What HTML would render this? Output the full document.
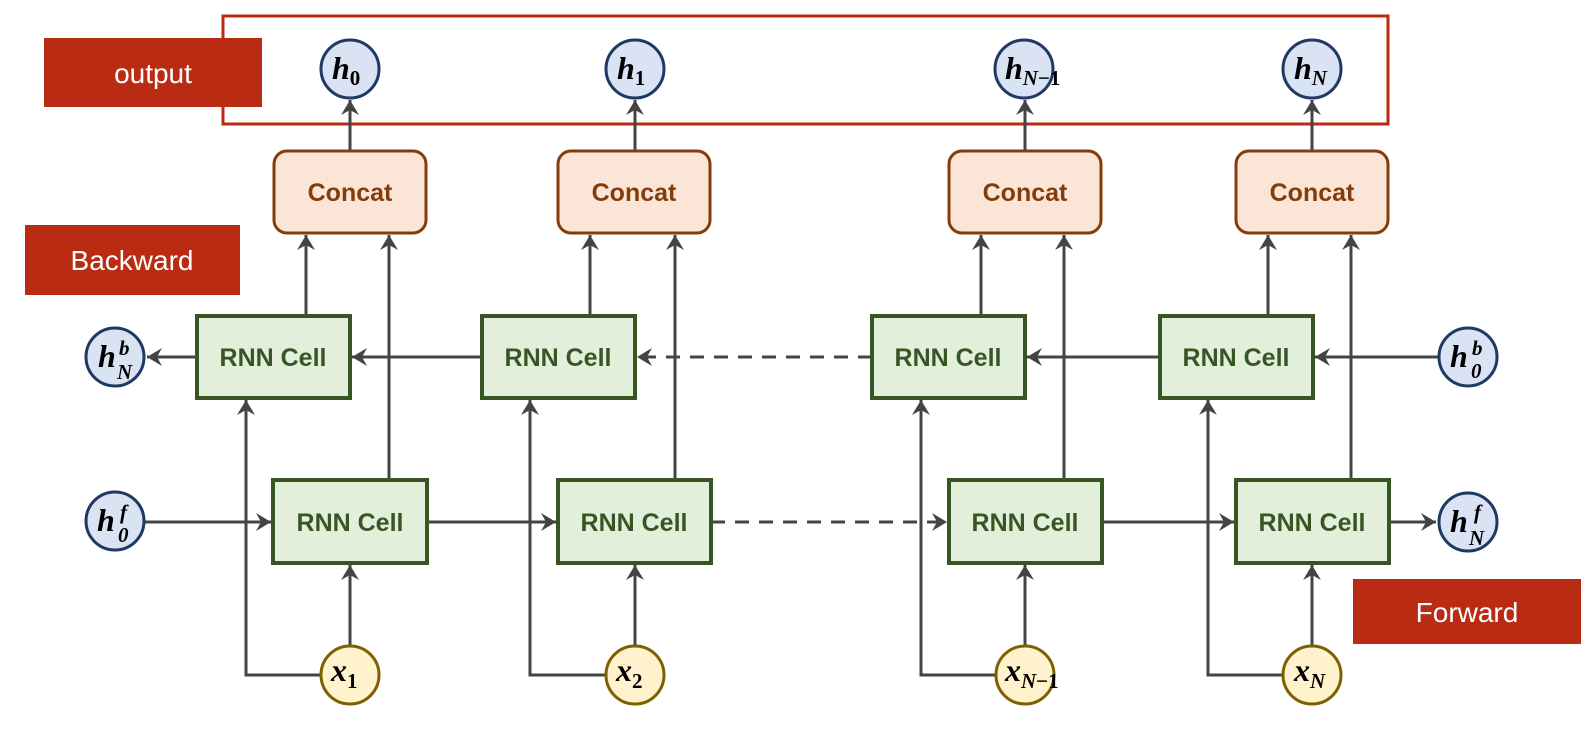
<!DOCTYPE html>
<html><head><meta charset="utf-8"><style>
html,body{margin:0;padding:0;background:#fff;}
svg{display:block}
.cell{fill:#e2efda;stroke:#375623;stroke-width:4}
.ct{font-family:"Liberation Sans",sans-serif;font-weight:bold;font-size:25px;fill:#375623;text-anchor:middle}
.cc{fill:#fbe5d6;stroke:#843c0c;stroke-width:3}
.cct{font-family:"Liberation Sans",sans-serif;font-weight:bold;font-size:25px;fill:#843c0c;text-anchor:middle}
.hc{fill:#dae3f3;stroke:#1f3864;stroke-width:3}
.xc{fill:#fff2cc;stroke:#7f6000;stroke-width:3}
.m{font-family:"Liberation Serif",serif;font-weight:bold;font-style:italic;fill:#000}
.ln{stroke:#444;stroke-width:3;fill:none}
.lab{fill:#b92b12}
.lt{font-family:"Liberation Sans",sans-serif;font-size:28px;fill:#fff;text-anchor:middle}
</style></head><body>
<svg width="1592" height="736" viewBox="0 0 1592 736" xmlns="http://www.w3.org/2000/svg">
<defs>
<marker id="a" markerUnits="userSpaceOnUse" markerWidth="20" markerHeight="20" refX="0" refY="0" viewBox="-18 -10 20 20" orient="auto">
<path d="M0,0 L-15,-9 L-10,0 L-15,9 Z" fill="#444"/>
</marker>
</defs>
<rect x="223" y="16" width="1165" height="108" fill="none" stroke="#b92b12" stroke-width="3"/>
<rect class="lab" x="44" y="38" width="218" height="69"/>
<text class="lt" x="153" y="83">output</text>
<rect class="lab" x="25" y="225" width="215" height="70"/>
<text class="lt" x="132" y="270">Backward</text>
<rect class="lab" x="1353" y="579" width="228" height="65"/>
<text class="lt" x="1467" y="622">Forward</text>

<line class="ln" x1="197" y1="357" x2="147" y2="357" marker-end="url(#a)"/>
<line class="ln" x1="482" y1="357" x2="352" y2="357" marker-end="url(#a)"/>
<line class="ln" x1="872" y1="357" x2="637" y2="357" stroke-dasharray="14,10" marker-end="url(#a)"/>
<line class="ln" x1="1160" y1="357" x2="1027" y2="357" marker-end="url(#a)"/>
<line class="ln" x1="1438" y1="357" x2="1315" y2="357" marker-end="url(#a)"/>

<line class="ln" x1="145" y1="522" x2="271" y2="522" marker-end="url(#a)"/>
<line class="ln" x1="427" y1="522" x2="556" y2="522" marker-end="url(#a)"/>
<line class="ln" x1="711" y1="522" x2="947" y2="522" stroke-dasharray="14,10" marker-end="url(#a)"/>
<line class="ln" x1="1102" y1="522" x2="1234" y2="522" marker-end="url(#a)"/>
<line class="ln" x1="1389" y1="522" x2="1436" y2="522" marker-end="url(#a)"/>

<polyline class="ln" points="320,675 246,675 246,400" marker-end="url(#a)"/>
<line class="ln" x1="350" y1="645" x2="350" y2="565" marker-end="url(#a)"/>
<line class="ln" x1="306" y1="315" x2="306" y2="235" marker-end="url(#a)"/>
<line class="ln" x1="389" y1="480" x2="389" y2="235" marker-end="url(#a)"/>
<line class="ln" x1="350" y1="151" x2="350" y2="100" marker-end="url(#a)"/>

<polyline class="ln" points="605,675 530,675 530,400" marker-end="url(#a)"/>
<line class="ln" x1="635" y1="645" x2="635" y2="565" marker-end="url(#a)"/>
<line class="ln" x1="590" y1="315" x2="590" y2="235" marker-end="url(#a)"/>
<line class="ln" x1="675" y1="480" x2="675" y2="235" marker-end="url(#a)"/>
<line class="ln" x1="635" y1="151" x2="635" y2="100" marker-end="url(#a)"/>

<polyline class="ln" points="995,675 921,675 921,400" marker-end="url(#a)"/>
<line class="ln" x1="1025" y1="645" x2="1025" y2="565" marker-end="url(#a)"/>
<line class="ln" x1="981" y1="315" x2="981" y2="235" marker-end="url(#a)"/>
<line class="ln" x1="1064" y1="480" x2="1064" y2="235" marker-end="url(#a)"/>
<line class="ln" x1="1025" y1="151" x2="1025" y2="100" marker-end="url(#a)"/>

<polyline class="ln" points="1282,675 1208,675 1208,400" marker-end="url(#a)"/>
<line class="ln" x1="1312" y1="645" x2="1312" y2="565" marker-end="url(#a)"/>
<line class="ln" x1="1268" y1="315" x2="1268" y2="235" marker-end="url(#a)"/>
<line class="ln" x1="1351" y1="480" x2="1351" y2="235" marker-end="url(#a)"/>
<line class="ln" x1="1312" y1="151" x2="1312" y2="100" marker-end="url(#a)"/>

<rect class="cc" x="274" y="151" width="152" height="82" rx="13"/><text class="cct" x="350" y="201">Concat</text>
<rect class="cc" x="558" y="151" width="152" height="82" rx="13"/><text class="cct" x="634" y="201">Concat</text>
<rect class="cc" x="949" y="151" width="152" height="82" rx="13"/><text class="cct" x="1025" y="201">Concat</text>
<rect class="cc" x="1236" y="151" width="152" height="82" rx="13"/><text class="cct" x="1312" y="201">Concat</text>

<rect class="cell" x="197" y="316" width="153" height="82"/><text class="ct" x="273" y="366">RNN Cell</text>
<rect class="cell" x="482" y="316" width="153" height="82"/><text class="ct" x="558" y="366">RNN Cell</text>
<rect class="cell" x="872" y="316" width="153" height="82"/><text class="ct" x="948" y="366">RNN Cell</text>
<rect class="cell" x="1160" y="316" width="153" height="82"/><text class="ct" x="1236" y="366">RNN Cell</text>
<rect class="cell" x="273" y="480" width="154" height="83"/><text class="ct" x="350" y="531">RNN Cell</text>
<rect class="cell" x="558" y="480" width="153" height="83"/><text class="ct" x="634" y="531">RNN Cell</text>
<rect class="cell" x="949" y="480" width="153" height="83"/><text class="ct" x="1025" y="531">RNN Cell</text>
<rect class="cell" x="1236" y="480" width="153" height="83"/><text class="ct" x="1312" y="531">RNN Cell</text>

<circle class="hc" cx="350" cy="69" r="29"/><text class="m" x="332" y="79" font-size="32">h<tspan font-size="21" font-style="normal" dy="6">0</tspan></text>
<circle class="hc" cx="635" cy="69" r="29"/><text class="m" x="617" y="79" font-size="32">h<tspan font-size="21" font-style="normal" dy="6">1</tspan></text>
<circle class="hc" cx="1024" cy="69" r="29"/><text class="m" x="1005" y="79" font-size="32">h<tspan font-size="21" dy="6">N</tspan><tspan font-size="21" font-style="normal">−1</tspan></text>
<circle class="hc" cx="1312" cy="69" r="29"/><text class="m" x="1294" y="79" font-size="32">h<tspan font-size="21" dy="6">N</tspan></text>

<circle class="hc" cx="115" cy="357" r="29"/><text class="m" x="98" y="367" font-size="32">h</text><text class="m" x="119" y="355" font-size="21">b</text><text class="m" x="117" y="379" font-size="21">N</text>
<circle class="hc" cx="115" cy="521" r="29"/><text class="m" x="97" y="531" font-size="32">h</text><text class="m" x="120" y="519" font-size="21">f</text><text class="m" x="118" y="542" font-size="21" font-style="normal">0</text>
<circle class="hc" cx="1468" cy="357" r="29"/><text class="m" x="1450" y="367" font-size="32">h</text><text class="m" x="1472" y="355" font-size="21">b</text><text class="m" x="1471" y="378" font-size="21" font-style="normal">0</text>
<circle class="hc" cx="1468" cy="522" r="29"/><text class="m" x="1450" y="532" font-size="32">h</text><text class="m" x="1474" y="519" font-size="21">f</text><text class="m" x="1469" y="545" font-size="21">N</text>

<circle class="xc" cx="350" cy="675" r="29"/><text class="m" x="331" y="681" font-size="32">x<tspan font-size="21" font-style="normal" dy="7">1</tspan></text>
<circle class="xc" cx="635" cy="675" r="29"/><text class="m" x="616" y="681" font-size="32">x<tspan font-size="21" font-style="normal" dy="7">2</tspan></text>
<circle class="xc" cx="1025" cy="675" r="29"/><text class="m" x="1005" y="681" font-size="32">x<tspan font-size="21" dy="7">N</tspan><tspan font-size="21" font-style="normal">−1</tspan></text>
<circle class="xc" cx="1312" cy="675" r="29"/><text class="m" x="1294" y="681" font-size="32">x<tspan font-size="21" dy="7">N</tspan></text>
</svg>
</body></html>
